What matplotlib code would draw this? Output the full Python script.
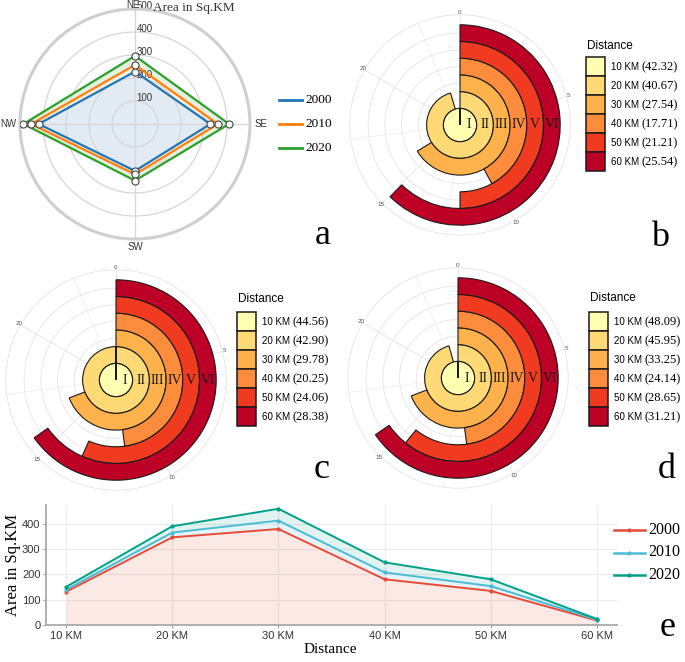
import numpy as np
import matplotlib
matplotlib.use("Agg")
import matplotlib.pyplot as plt
from matplotlib.patches import Rectangle
from matplotlib.lines import Line2D

W, H = 685, 662
SERIF = "Liberation Serif"
SANS = "Liberation Sans"

# ---------------- data ----------------
directions = ["NE", "SE", "SW", "NW"]
radar_2000 = [228, 328, 204, 419]
radar_2010 = [257, 360, 219, 451]
radar_2020 = [296, 409, 246, 485]
radar_ticks = [100, 200, 300, 400, 500]

ring_names = ["I", "II", "III", "IV", "V", "VI"]
dist_labels = ["10 KM", "20 KM", "30 KM", "40 KM", "50 KM", "60 KM"]
theta_ticks = [0, 5, 10, 15, 20]
theta_full = 24.0
# legend values
legend_b = ["42.32", "40.67", "27.54", "17.71", "21.21", "25.54"]
legend_c = ["44.56", "42.90", "29.78", "20.25", "24.06", "28.38"]
legend_d = ["48.09", "45.95", "33.25", "24.14", "28.65", "31.21"]
# angular extent of each ring (theta-axis units)
sweep_b = [24.0, 22.9, 15.9, 10.1, 12.0, 14.95]
sweep_c = [24.0, 24.0, 16.6, 11.5, 13.6, 15.65]
sweep_d = [24.0, 22.95, 16.6, 11.5, 14.6, 15.7]
ring_colors = ["#ffffb2", "#fed976", "#feb24c", "#fd8d3c", "#f03b20", "#bd0026"]

area_2000 = [132, 347, 380, 181, 135, 18]
area_2010 = [140, 366, 413, 208, 154, 21]
area_2020 = [151, 391, 460, 248, 181, 24]
years = ["2000", "2010", "2020"]

fig = plt.figure(figsize=(W / 100, H / 100), dpi=100)


def polar_at(cx, cy, r):
    return fig.add_axes([(cx - r) / W, (H - cy - r) / H, 2 * r / W, 2 * r / H],
                        projection="polar")


# ---------------- panel a: radar ----------------
axa = polar_at(135, 124, 115)
axa.set_theta_zero_location("N")
axa.set_theta_direction(-1)
ang = np.arange(len(directions)) * 2 * np.pi / len(directions)
radar_cols = ["#1f77b4", "#ff7f0e", "#2ca02c"]
radar_fill = ["#e2eaf3", "#fbeee2", "#e4f1e0"]
series = [radar_2000, radar_2010, radar_2020]
# fills drawn outermost first so each band keeps its own tint
for vals, fc in list(zip(series, radar_fill))[::-1]:
    a = np.append(ang, ang[0])
    v = np.append(vals, vals[0])
    axa.fill(a, v, color=fc, zorder=1.5, lw=0)
for vals, col in zip(series, radar_cols):
    a = np.append(ang, ang[0])
    v = np.append(vals, vals[0])
    axa.plot(a, v, color=col, lw=1.6, zorder=3)
for vals in series:
    axa.scatter(ang, vals, s=26, facecolor="white", edgecolor="#444444",
                linewidth=0.8, zorder=5)
axa.set_ylim(0, 500)
axa.set_yticks(radar_ticks[:-1])
axa.set_yticklabels([])
axa.set_xticks(ang)
axa.set_xticklabels([])
axa.grid(color="#d6d6d6", lw=0.9)
axa.spines["polar"].set_color("#cfcfcf")
axa.spines["polar"].set_linewidth(2.2)
label_off = [(-1.5, 3), (8, 0), (0, -5.5), (-8.5, 0)]
for a_, name, (dx, dy) in zip(ang, directions, label_off):
    axa.annotate(name, xy=(a_, 500), xytext=(dx, dy), textcoords="offset points",
                 ha="center", va="center", fontsize=7, family=SANS,
                 color="#333333", annotation_clip=False)
for t in radar_ticks:
    axa.annotate(str(t), xy=(0, t), xytext=(1, 2), textcoords="offset points",
                 ha="left", va="center", fontsize=7, family=SANS, color="#333333",
                 zorder=2.5, annotation_clip=False)


# ---------------- panels b, c, d ----------------
def ring_panel(cx, cy, sweeps):
    unit = 16.7
    rmax = 6.6
    ax = polar_at(cx, cy, rmax * unit)
    ax.set_theta_zero_location("N")
    ax.set_theta_direction(-1)
    ax.set_ylim(0, rmax)
    # minor spokes
    for m in np.array(theta_ticks) + 2.5:
        th = m / theta_full * 2 * np.pi
        ax.plot([th, th], [0, rmax], color="#ececec", lw=0.5, zorder=0)
    for k, (s, col) in enumerate(zip(sweeps, ring_colors)):
        ax.bar(0, 1, width=s / theta_full * 2 * np.pi, bottom=k, align="edge",
               color=col, edgecolor="#1a1a1a", linewidth=0.8, zorder=2)
    for k, name in enumerate(ring_names):
        ax.text(np.pi / 2, k + 0.5, name, ha="center", va="center",
                family=SERIF, fontsize=10, color="#1a1a1a", zorder=4)
    tick_th = np.array(theta_ticks) / theta_full * 2 * np.pi
    ax.set_xticks(tick_th)
    ax.set_xticklabels([])
    for th, t in zip(tick_th, theta_ticks):
        ax.text(th, 6.72, str(t), fontsize=4.5, color="#555555", family=SANS,
                ha="center", va="center", clip_on=False, zorder=5)
    ax.set_yticks(np.arange(6) + 0.5)
    ax.set_yticklabels([])
    ax.grid(color="#e4e4e4", lw=0.6)
    ax.spines["polar"].set_color("#e4e4e4")
    ax.spines["polar"].set_linewidth(0.6)
    return ax


ring_panel(460, 125, sweep_b)
ring_panel(116, 380, sweep_c)
ring_panel(458, 378, sweep_d)

# ---------------- panel e ----------------
axe = fig.add_axes([46 / W, (H - 625) / H, (617 - 46) / W, (625 - 505) / H])
x = np.arange(len(dist_labels))
e_cols = ["#E64B35", "#4DBBD5", "#00A087"]
axe.fill_between(x, 0, area_2000, color="#E64B35", alpha=0.12, lw=0, zorder=1)
axe.fill_between(x, area_2000, area_2010, color="#4DBBD5", alpha=0.15, lw=0, zorder=1)
axe.fill_between(x, area_2010, area_2020, color="#00A087", alpha=0.12, lw=0, zorder=1)
for vals, col in zip([area_2000, area_2010, area_2020], e_cols):
    axe.plot(x, vals, color=col, lw=1.4, marker="o", ms=2, zorder=3)
axe.set_xlim(-0.19, 5.19)
axe.set_ylim(0, 475)
axe.set_xticks(x)
axe.set_xticklabels(dist_labels, fontsize=8, family=SANS, color="#333333")
axe.set_yticks([0, 100, 200, 300, 400])
axe.set_yticklabels(["0", "100", "200", "300", "400"], fontsize=8, family=SANS,
                    color="#333333")
axe.tick_params(length=2, color="#999999", pad=2)
axe.grid(color="#ebebeb", lw=0.8)
axe.set_axisbelow(True)
for s in ["top", "right"]:
    axe.spines[s].set_visible(False)
for s in ["left", "bottom"]:
    axe.spines[s].set_color("#aaaaaa")
    axe.spines[s].set_linewidth(1.3)
axe.set_ylabel("Area in Sq.KM", family=SERIF, fontsize=12)
axe.yaxis.set_label_coords(-0.044, 0.5)
axe.set_xlabel("Distance", family=SERIF, fontsize=11)
axe.xaxis.set_label_coords(0.497, -0.15)

# ---------------- overlay: legends, titles, panel letters ----------------
ov = fig.add_axes([0, 0, 1, 1])
ov.set_xlim(0, W)
ov.set_ylim(H, 0)
ov.axis("off")

ov.text(153, 8, "Area in Sq.KM", family=SERIF, fontsize=9.5, ha="left",
        va="center", color="#333333")
for i, (yr, col) in enumerate(zip(years, radar_cols)):
    yy = 100 + 24 * i
    ov.add_line(Line2D([279, 302], [yy, yy], color=col, lw=2))
    ov.text(305, yy, yr, family=SERIF, fontsize=9.5, ha="left", va="center")

for i, (yr, col) in enumerate(zip(years, e_cols)):
    yy = 530 + 22.5 * i
    ov.add_line(Line2D([614, 645], [yy, yy], color=col, lw=1.8))
    ov.add_line(Line2D([629.5], [yy], color=col, marker="o", ms=2))
    ov.text(648, yy, yr, family=SERIF, fontsize=11.5, ha="left", va="center")


def ring_legend(x0, ytitle, ybox, legend_vals):
    ov.text(x0 + 1, ytitle, "Distance", family=SANS, fontsize=8.5, ha="left",
            va="center")
    bh = 19
    for i, (lab, val, col) in enumerate(zip(dist_labels, legend_vals, ring_colors)):
        y = ybox + bh * i
        ov.add_patch(Rectangle((x0, y), 19, bh, facecolor=col,
                               edgecolor="#1a1a1a", lw=1.1))
        t = ov.text(x0 + 25, y + bh / 2 + 0.5, lab + " ", family=SANS, fontsize=7,
                    ha="left", va="center")
        ov.annotate("(" + val + ")", xycoords=t, xy=(1, 0.5), va="center",
                    ha="left", family=SERIF, fontsize=9)


ring_legend(586, 46, 57, legend_b)
ring_legend(237, 299, 312, legend_c)
ring_legend(589, 298, 312, legend_d)

for lab, (lx, ly) in zip("abcde", [(323, 236), (660, 238), (322, 470),
                                   (667, 470), (668, 628)]):
    ov.text(lx, ly, lab, family=SERIF, fontsize=26, ha="center", va="center")

fig.savefig("out.png", dpi=100)
